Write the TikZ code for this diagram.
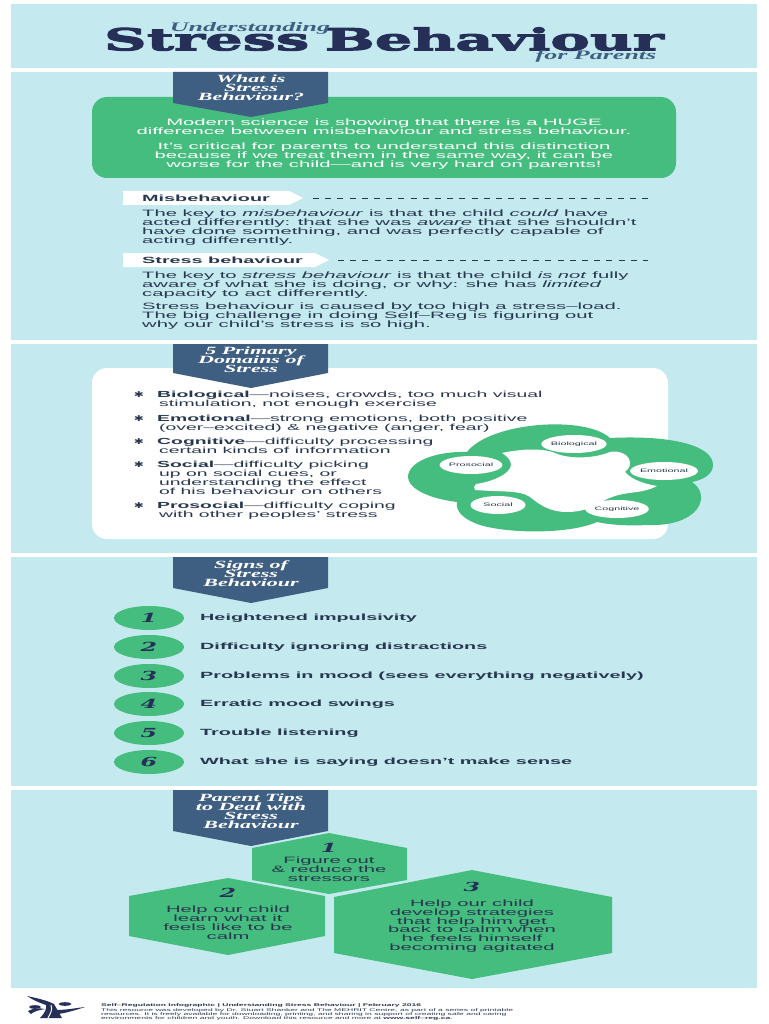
\documentclass[tikz,border=0pt]{standalone}
\usepackage{fontspec}
\usetikzlibrary{shapes.geometric}
\newfontfamily\bodyfont[FakeStretch=2.2]{Liberation Sans}
\newfontfamily\cursfont[FakeStretch=2.0]{Liberation Serif}
\newfontfamily\headfont[FakeStretch=1.97,FakeBold=4]{DejaVu Serif}
\newfontfamily\numfont[FakeStretch=1.9]{DejaVu Serif}
\newfontfamily\symfont[FakeStretch=1.5]{DejaVu Sans}
\newcommand\tightlines{\lineskiplimit=-10pt\relax}
\definecolor{panelblue}{HTML}{C4EAEF}
\definecolor{boxgreen}{HTML}{45BD7E}
\definecolor{bannerblue}{HTML}{3F5F82}
\definecolor{navy}{HTML}{252F58}
\definecolor{inkblue}{HTML}{27374F}
\tikzset{
  panel/.style = {fill=panelblue},
  banner/.style = {fill=bannerblue},
  hexbox/.style = {fill=boxgreen},
  bantext/.style = {align=center, inner sep=0pt, text=white,
    font=\cursfont\bfseries\itshape\fontsize{11}{9}\selectfont\tightlines},% white script on the banners
  scripttitle/.style = {inner sep=0pt, text=bannerblue,
    font=\cursfont\bfseries\itshape\fontsize{13}{13}\selectfont},
  bodytext/.style = {align=left, anchor=north west, inner sep=0pt, text=inkblue,
    font=\bodyfont\fontsize{9.2}{9}\selectfont\tightlines},
  listtext/.style = {bodytext, font=\bodyfont\fontsize{8.8}{8.9}\selectfont\tightlines},
  whitetext/.style = {align=center, anchor=north, inner sep=0pt, text=white,
    font=\bodyfont\fontsize{9.2}{9.1}\selectfont\tightlines},
  hextext/.style = {align=center, anchor=north, inner sep=0pt, text=inkblue,
    font=\bodyfont\fontsize{9.2}{8.8}\selectfont\tightlines},
  signtext/.style = {anchor=west, inner sep=0pt, text=inkblue,
    font=\bodyfont\bfseries\fontsize{9}{10}\selectfont},
  tagtext/.style = {anchor=west, inner sep=0pt, text=inkblue,
    font=\bodyfont\bfseries\fontsize{9}{10}\selectfont},
  numoval/.style = {ellipse, fill=boxgreen, inner sep=0pt, text=navy,
    minimum width=70pt, minimum height=24pt,
    font=\numfont\bfseries\itshape\fontsize{12.5}{13}\selectfont},
  numtext/.style = {inner sep=0pt, text=navy,
    font=\numfont\bfseries\itshape\fontsize{12.5}{13}\selectfont},
  ringnode/.style = {ellipse, fill=white, inner sep=0pt, text=inkblue,
    minimum width=55pt, minimum height=18pt,
    font=\bodyfont\fontsize{4.9}{6}\selectfont},
  tag/.style = {fill=white},
  dashline/.style = {draw=inkblue, line width=0.9pt, dash pattern=on 6pt off 6.2pt},
  bullet/.style = {inner sep=0pt, text=inkblue, font=\symfont\fontsize{8}{8}\selectfont}
}

\begin{document}
\begin{tikzpicture}[x=1pt,y=-1pt]
\useasboundingbox (0,0) rectangle (768,1024);
\fill [white] (0,0) rectangle (768,1024);
\fill [panel] (11,4) rectangle (757,68);
\fill [panel] (11,72) rectangle (757,340);
\fill [panel] (11,344) rectangle (757,553);
\fill [panel] (11,557) rectangle (757,786);
\fill [panel] (11,790) rectangle (757,988);

% title
\node [inner sep=0pt, text=navy, font=\headfont\bfseries\fontsize{30}{30}\selectfont] (title) at (384,39) {Stress\hspace{-5pt} Behaviour};
\node [scripttitle] (understanding) at (250,28) {Understanding};
\node [scripttitle] (forparents) at (596,56) {for Parents};

% what is stress behaviour
\fill [hexbox, rounded corners=15pt] (92,97) rectangle (676,178);
\fill [banner] (173,72) -- (328,72) -- (328,103) -- (251,117) -- (173,103) -- cycle;
\node [bantext] (what) at (251,88) {What is\\Stress\\Behaviour?};
\node [whitetext] (intro) at (384,119) {Modern science is showing that there is a HUGE\\
  difference between misbehaviour and stress behaviour.\\[5pt]
  It’s critical for parents to understand this distinction\\
  because if we treat them in the same way, it can be\\
  worse for the child—and is very hard on parents!};

\fill [tag] (123,191) -- (289,191) -- (303,198) -- (289,205) -- (123,205) -- cycle;
\node [tagtext] (mis) at (142,198) {Misbehaviour};
\coordinate (misdash) at (313,198);
\coordinate (misend) at (648,198);
\draw [dashline] (misdash) -- (misend);
\node [bodytext] (mistext) at (142,209.8) {The key to \textit{misbehaviour} is that the child \textit{could} have\\
  acted differently: that she was \textit{aware} that she shouldn’t\\
  have done something, and was perfectly capable of\\
  acting differently.};

\fill [tag] (123,253) -- (315,253) -- (329,260) -- (315,267) -- (123,267) -- cycle;
\node [tagtext] (stress) at (142,260) {Stress behaviour};
\coordinate (stressdash) at (338,260);
\coordinate (stressend) at (648,260);
\draw [dashline] (stressdash) -- (stressend);
\node [bodytext] (stresstext) at (142,271.8) {The key to \textit{stress behaviour} is that the child \textit{is not} fully\\
  aware of what she is doing, or why: she has \textit{limited}\\
  capacity to act differently.\\[4pt]
  Stress behaviour is caused by too high a stress–load.\\
  The big challenge in doing Self–Reg is figuring out\\
  why our child’s stress is so high.};

% domains
\fill [white, rounded corners=15pt] (92,368) rectangle (668,539);
\fill [banner] (173,344) -- (328,344) -- (328,373) -- (251,388) -- (173,373) -- cycle;
\node [bantext] (domains) at (251,360) {5 Primary\\Domains of\\Stress};
\node [bullet] (b1) at (139,395) {✱};
\node [bullet] (b2) at (139,419) {✱};
\node [bullet] (b3) at (139,442) {✱};
\node [bullet] (b4) at (139,465) {✱};
\node [bullet] (b5) at (139,506) {✱};
\node [listtext] (biological) at (157,391.4) {\textbf{Biological}—noises, crowds, too much visual\\ \hspace*{2pt}stimulation, not enough exercise};
\node [listtext] (emotional) at (157,415.4) {\textbf{Emotional}—strong emotions, both positive\\ \hspace*{2pt}(over–excited) \& negative (anger, fear)};
\node [listtext] (cognitive) at (157,438.4) {\textbf{Cognitive}—difficulty processing\\ \hspace*{2pt}certain kinds of information};
\node [listtext] (social) at (157,461.4) {\textbf{Social}—difficulty picking\\ \hspace*{2pt}up on social cues, or\\ \hspace*{2pt}understanding the effect\\ \hspace*{2pt}of his behaviour on others};
\node [listtext] (prosocial) at (157,502.4) {\textbf{Prosocial}—difficulty coping\\ \hspace*{2pt}with other peoples’ stress};

\fill [hexbox] (467,452) .. controls (490,422) and (585,415) .. (610,438)
  .. controls (670,435) and (713,445) .. (713,465) .. controls (713,475) and (702,480) .. (692,482)
  .. controls (712,495) and (700,527) .. (647,525) .. controls (630,526) and (610,525) .. (597,522)
  .. controls (570,534) and (510,534) .. (480,525) .. controls (465,520) and (455,512) .. (457,502)
  .. controls (425,498) and (408,487) .. (408,477) .. controls (408,462) and (435,451) .. (467,452) -- cycle;
\fill [white] (502,453) .. controls (515,450) and (540,447) .. (555,453)
  .. controls (565,458) and (590,460) .. (610,452) .. controls (620,450) and (630,455) .. (630,463)
  .. controls (630,468) and (627,470) .. (625,472) .. controls (632,480) and (645,484) .. (657,486)
  .. controls (640,495) and (625,490) .. (605,500) .. controls (595,508) and (580,512) .. (567,512)
  .. controls (550,512) and (540,505) .. (530,497) .. controls (520,490) and (500,492) .. (475,490)
  .. controls (473,488) and (474,486) .. (476,484) .. controls (490,482) and (510,475) .. (511,465)
  .. controls (511,460) and (507,456) .. (502,453) -- cycle;
\node [ringnode] (nodebio) at (574,444) {Biological};
\node [ringnode] (nodeemo) at (664,471) {Emotional};
\node [ringnode] (nodecog) at (617,509) {Cognitive};
\node [ringnode] (nodesoc) at (498,505) {Social};
\node [ringnode] (nodepro) at (471,465) {Prosocial};

% signs
\fill [banner] (173,557) -- (328,557) -- (328,588) -- (251,603) -- (173,588) -- cycle;
\node [bantext] (signs) at (251,574) {Signs of\\Stress\\Behaviour};
\node [numoval] (sign1) at (149,618) {1};
\node [numoval] (sign2) at (149,647) {2};
\node [numoval] (sign3) at (149,676) {3};
\node [numoval] (sign4) at (149,704) {4};
\node [numoval] (sign5) at (149,733) {5};
\node [numoval] (sign6) at (149,762) {6};
\node [signtext] (text1) at (200,618.5) {Heightened impulsivity};
\node [signtext] (text2) at (200,647.5) {Difficulty ignoring distractions};
\node [signtext] (text3) at (200,676.5) {Problems in mood (sees everything negatively)};
\node [signtext] (text4) at (200,704.5) {Erratic mood swings};
\node [signtext] (text5) at (200,733.5) {Trouble listening};
\node [signtext] (text6) at (200,762.5) {What she is saying doesn’t make sense};

% tips
\fill [banner] (173,790) -- (328,790) -- (328,831) -- (251,846) -- (173,831) -- cycle;
\node [bantext] (tips) at (251,811.5) {Parent Tips\\to Deal with\\Stress\\Behaviour};
\fill [hexbox] (329,833) -- (407,848) -- (407,880) -- (329,894) -- (252,880) -- (252,848) -- cycle;
\fill [hexbox] (228,878) -- (325,896) -- (325,936) -- (228,955) -- (129,936) -- (129,896) -- cycle;
\fill [hexbox] (472,870) -- (612,897) -- (612,953) -- (472,979) -- (334,953) -- (334,897) -- cycle;
\node [numtext] (tip1) at (329,848) {1};
\node [hextext] (tiptext1) at (329,856.7) {Figure out\\\& reduce the\\stressors};
\node [numtext] (tip2) at (228,893) {2};
\node [hextext] (tiptext2) at (228,905.8) {Help our child\\learn what it\\feels like to be\\calm};
\node [numtext] (tip3) at (472,887) {3};
\node [hextext] (tiptext3) at (472,899.7) {Help our child\\develop strategies\\that help him get\\back to calm when\\he feels himself\\becoming agitated};

% footer
\fill [navy] (27,996) .. controls (36,998) and (46,1000) .. (54,1004) -- (62,1018) -- (40,1018) .. controls (45,1013) and (47,1008) .. (46,1005) .. controls (40,1003) and (33,1000) .. (27,996) -- cycle;
\fill [navy] (56,1010) .. controls (66,1010) and (76,1008) .. (85,1007) .. controls (76,1010) and (66,1013) .. (58,1014) -- cycle;
\fill [navy] (28,1011) .. controls (33,1008) and (40,1008) .. (45,1009) .. controls (40,1010) and (34,1011) .. (31,1014) -- cycle;
\fill [navy] (35,1007) ellipse [x radius=6, y radius=1.8];
\fill [navy] (65,1004) ellipse [x radius=6.5, y radius=1.8];
\draw [white, line width=1pt] (51,1005) .. controls (53,1010) and (50,1014) .. (48,1018);
\node [anchor=north west, align=left, inner sep=0pt, text=inkblue, font=\bodyfont\fontsize{3.9}{4.3}\selectfont\tightlines] (footer) at (101,1003.5) {\textbf{Self–Regulation Infographic | Understanding Stress Behaviour | February 2016}\\[0.5pt]
  This resource was developed by Dr. Stuart Shanker and The MEHRIT Centre, as part of a series of printable\\
  resources. It is freely available for downloading, printing, and sharing in support of creating safe and caring\\
  environments for children and youth. Download this resource and more at \textbf{www.self–reg.ca}.};
\end{tikzpicture}
\end{document}
